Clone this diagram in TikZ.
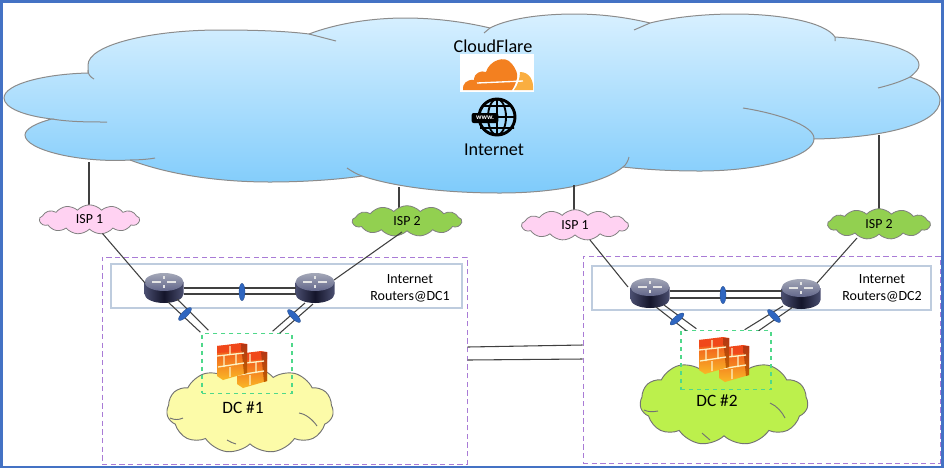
\documentclass[tikz,border=0pt]{standalone}
\usepackage{fontspec}
\setmainfont{Carlito}
\usetikzlibrary{positioning, shapes.geometric, shapes.symbols, calc}
\definecolor{framblue}{HTML}{4472C4}
\definecolor{cloudtop}{HTML}{D8F0FF}
\definecolor{cloudbot}{HTML}{7ECBFB}
\definecolor{ispPink}{HTML}{FFD2F2}
\definecolor{ispGreen}{HTML}{92D050}
\definecolor{dcYellow}{HTML}{FCFBA8}
\definecolor{dcGreen}{HTML}{BCF04C}
\definecolor{boxpurple}{HTML}{A97BD6}
\definecolor{boxgreen}{HTML}{4FD88A}
\definecolor{boxgray}{HTML}{BECCDE}
\definecolor{ringblue}{HTML}{2F66C0}
\definecolor{cforange}{HTML}{F38020}
\definecolor{cfyellow}{HTML}{FAAE40}
\definecolor{fwred}{HTML}{F0481A}
\definecolor{fwyellow}{HTML}{F9B826}
\definecolor{fwcream}{HTML}{FDF2C4}
\definecolor{lidtop}{HTML}{A4A8B8}
\definecolor{lidbot}{HTML}{62668A}
\definecolor{drumside}{HTML}{4A4E70}
\definecolor{drummid}{HTML}{14152A}
\tikzset{
    isp/.style={cloud, cloud ignores aspect, cloud puffs=13, cloud puff arc=95, draw=black!50, line width=0.6pt,
                inner sep=0pt, font=\fontsize{10.4}{12}\selectfont},
    dccloud/.style={cloud, cloud ignores aspect, cloud puffs=11, cloud puff arc=100, draw=black!55, line width=0.7pt,
                inner sep=0pt, minimum width=125pt, minimum height=65pt},
    sitebox/.style={draw=boxpurple, dash pattern=on 4pt off 2.5pt, line width=0.75pt, inner sep=0pt},
    routerbox/.style={draw=boxgray, line width=1pt, inner sep=0pt, minimum width=#1, minimum height=33pt},
    fwbox/.style={draw=boxgreen, dashed, line width=0.9pt, inner sep=0pt, minimum width=67.5pt, minimum height=44.5pt},
    ring/.style={ellipse, fill=ringblue, draw=ringblue!70!black, line width=0.2pt, inner sep=0pt, minimum width=13pt, minimum height=4.5pt},
    link/.style={draw=black!75, line width=0.8pt},
    biglabel/.style={font=\fontsize{13.6}{16}\selectfont},
    dclabel/.style={font=\fontsize{13}{15}\selectfont},
}
% router: dark drum with arrows on the lid
\newcommand{\router}[2]{
    \begin{scope}[shift={(#2)}]
        \shade[left color=drumside, right color=drumside, middle color=drummid]
            (-19.5,-6) -- (-19.5,6) arc[start angle=180, end angle=360, x radius=19.5, y radius=-9] -- (19.5,-6) -- cycle;
        \shade[top color=lidtop, bottom color=lidbot] (0,-6) ellipse[x radius=19.5, y radius=9];
        \draw[white!90!black, line width=0.9pt] (-12,-6) -- (-3,-6) (3,-6) -- (12,-6) (0,-12) -- (0,-9) (0,-3) -- (0,0);
        \node[inner sep=0pt, minimum width=29pt, minimum height=22pt] (#1) at (0,0) {};
    \end{scope}
}
% one brick wall, origin at its top left
\newcommand{\wall}[1]{
    \begin{scope}[shift={(#1)}]
        \shade[top color=fwred, bottom color=fwyellow] (0,3) -- (30,1) -- (30,30) -- (6,37) -- (0,33) -- cycle;
        \fill[fwred] (0,3) -- (24,0) -- (30,1) -- (30,8) -- (0,10) -- cycle;
        \shade[top color=fwred!75!black, bottom color=orange!75!black] (24,1) -- (30,1) -- (30,30) -- (27,31) -- cycle;
        \draw[fwcream, line width=1pt] (0,13) -- (27,10) (1,24) -- (27,20) (13,3) -- (13,12) (7,13) -- (7,24) (19,11) -- (19,22) (13,24) -- (13,34);
    \end{scope}
}
\begin{document}
\begin{tikzpicture}[x=0.75pt, y=-0.75pt]
    \useasboundingbox (0,0) rectangle (944,469);
    \draw[framblue, line width=2pt] (1.5,1.5) rectangle (942.5,467);

    % big cloud
    \path[draw=black!45, line width=0.75pt, top color=cloudtop, bottom color=cloudbot]
        (88,73) .. controls (45,74) and (4,84) .. (4,98)
        .. controls (4,108) and (25,116) .. (52,119)
        .. controls (36,123) and (25,129) .. (25,135)
        .. controls (25,150) and (80,163) .. (130,160)
        .. controls (170,175) and (220,182) .. (270,182)
        .. controls (300,182) and (335,180) .. (362,176)
        .. controls (395,187) and (445,193) .. (500,193)
        .. controls (560,193) and (605,182) .. (623,167)
        .. controls (650,170) and (675,171) .. (700,171)
        .. controls (765,171) and (814,155) .. (814,139)
        .. controls (880,138) and (940,125) .. (940,100)
        .. controls (940,90) and (925,82) .. (910,77)
        .. controls (916,72) and (919,69) .. (919,65)
        .. controls (919,50) and (880,40) .. (835,37)
        .. controls (825,22) and (780,14) .. (735,14)
        .. controls (700,14) and (670,18) .. (650,23)
        .. controls (625,17) and (600,14) .. (575,14)
        .. controls (535,14) and (505,20) .. (490,28)
        .. controls (465,22) and (435,18) .. (405,18)
        .. controls (370,18) and (335,24) .. (309,34)
        .. controls (285,31) and (255,30) .. (220,30)
        .. controls (150,30) and (88,45) .. (88,65)
        -- cycle;
    \draw[black!45, line width=0.75pt]
        (88,70) .. controls (88,74) and (90,77) .. (94,79)
        (52,119) .. controls (70,122) and (90,122) .. (107,122)
        (130,160) .. controls (140,160) and (150,159) .. (155,158)
        (347,168) .. controls (350,170) and (356,174) .. (362,176)
        (629,157) .. controls (628,161) and (626,165) .. (623,167)
        (814,139) .. controls (815,125) and (775,113) .. (743,108)
        (910,77) .. controls (900,82) and (890,85) .. (878,88)
        (835,37) -- (835,41)
        (650,23) -- (634,30)
        (490,28) -- (484,33)
        (309,34) -- (336,41);

    % labels and logos inside the big cloud
    \node[biglabel] (cflabel) at (493,46) {CloudFlare};
    \fill[white] (460,54) rectangle (534,92);
    \fill[cforange] (463,90) .. controls (462,84) and (467,79) .. (474,80)
        .. controls (474,73) and (481,70) .. (486,72)
        .. controls (489,61) and (505,54) .. (512,64)
        .. controls (516,69) and (518,74) .. (517,78)
        .. controls (516,83) and (514,87) .. (512,90) -- cycle;
    \fill[cfyellow] (520,72) .. controls (529,72) and (534,80) .. (533,90) -- (514,90) .. controls (518,85) and (520,78) .. (520,72) -- cycle;
    \draw[white, line width=1pt] (477,83) -- (523,81);
    \draw[black, line width=2.2pt] (497,117) circle[radius=18];
    \draw[black, line width=1.4pt] (497,117) ellipse[x radius=9, y radius=18] (497,99) -- (497,135)
        (483,106) -- (511,106) (480,128) -- (514,128) (498,117) -- (515,117);
    \node[fill=black, rounded corners=1.5pt, text=white, inner sep=1pt, minimum width=20pt, minimum height=7.5pt,
          font=\fontsize{5.5}{6}\bfseries\selectfont] (www) at (485,118) {www.};
    \node[biglabel] (netlabel) at (494,150) {Internet};

    % site boxes
    \node[sitebox, minimum width=273.75pt, minimum height=155.25pt] (site1) at (284.5,360.5) {};
    \node[sitebox, minimum width=267.75pt, minimum height=155.25pt] (site2) at (761.5,359.5) {};
    \node[routerbox=263.25pt] (rbox1) at (286.5,286) {};
    \node[routerbox=254.25pt] (rbox2) at (761.5,288) {};

    % cloud to ISP
    \coordinate (neta) at (89,162);
    \coordinate (netb) at (399,187);
    \coordinate (netc) at (574,185);
    \coordinate (netd) at (879,135);
    \coordinate (ispa) at (89,212);
    \coordinate (ispb) at (399,212);
    \coordinate (ispc) at (574,215);
    \coordinate (ispd) at (879,215);
    \draw[link] (neta) -- (ispa);
    \draw[link] (netb) -- (ispb);
    \draw[link] (netc) -- (ispc);
    \draw[link] (netd) -- (ispd);

    % ISP clouds
    \node[isp, fill=ispPink, minimum width=75pt, minimum height=22pt] (isp1a) at (89.5,219.5) {ISP 1};
    \node[isp, fill=ispGreen, minimum width=82pt, minimum height=23pt] (isp2a) at (407,221) {ISP 2};
    \node[isp, fill=ispPink, minimum width=80pt, minimum height=23pt] (isp1b) at (575,225) {ISP 1};
    \node[isp, fill=ispGreen, minimum width=77pt, minimum height=23pt] (isp2b) at (879,224) {ISP 2};

    % routers
    \router{r1a}{164,288}
    \router{r1b}{315,288}
    \router{r2a}{650,293}
    \router{r2b}{801,294}

    % ISP to routers
    \draw[link] ([shift={(13,14)}]isp1a.center) -- ([shift={(-19,-5)}]r1a.center);
    \draw[link] ([shift={(-5,11)}]isp2a.center) -- ([shift={(19,-8)}]r1b.center);
    \draw[link] ([shift={(15,15)}]isp1b.center) -- ([shift={(-22,-6)}]r2a.center);
    \draw[link] ([shift={(-22,14)}]isp2b.center) -- ([shift={(16,-11)}]r2b.center);

    % DC clouds
    \node[dccloud, fill=dcYellow] (dc1) at (250,410) {};
    \node[dccloud, fill=dcGreen, minimum width=126pt] (dc2) at (724,402) {};
    \draw[black!55, line width=0.7pt]
        (170,418) .. controls (174,420) and (179,420) .. (183,418)
        (299,413) .. controls (306,414) and (313,420) .. (317,426)
        (227,440) .. controls (230,442) and (233,443) .. (236,444)
        (644,410) .. controls (648,412) and (653,412) .. (658,411)
        (770,403) .. controls (777,406) and (782,412) .. (785,418)
        (702,433) .. controls (705,436) and (708,438) .. (710,440);
    \node[dclabel] (dc1label) at (243,408) {DC \#1};
    \node[dclabel] (dc2label) at (717,401) {DC \#2};

    % firewalls
    \node[fwbox] (fw1) at (247,363.5) {};
    \node[fwbox] (fw2) at (726,360) {};
    \wall{237,351}
    \wall{217,343}
    \wall{719,345}
    \wall{699,337}

    % router pairs
    \draw[link] ([shift={(19.5,0)}]r1a.center) -- ([shift={(-19,0)}]r1b.center);
    \draw[link] ([shift={(19.5,6)}]r1a.center) -- ([shift={(-19,6)}]r1b.center);
    \draw[link] ([shift={(19.5,-2)}]r2a.center) -- ([shift={(-19,-3)}]r2b.center);
    \draw[link] ([shift={(19.5,5)}]r2a.center) -- ([shift={(-19,4)}]r2b.center);
    \node[ring, rotate=90] (ring1) at (242,292) {};
    \node[ring, rotate=90] (ring2) at (723,295) {};

    % routers to firewall boxes
    \draw[link] ([shift={(4,14)}]r1a.center) -- ([shift={(-1,-1)}]fw1.north west);
    \draw[link] ([shift={(13,11)}]r1a.center) -- ([shift={(7,-3)}]fw1.north west);
    \draw[link] ([shift={(-10,15)}]r1b.center) -- ([shift={(-20,-2)}]fw1.north east);
    \draw[link] ([shift={(-2,16)}]r1b.center) -- ([shift={(-13,0)}]fw1.north east);
    \draw[link] ([shift={(6,14)}]r2a.center) -- ([shift={(6,1)}]fw2.north west);
    \draw[link] ([shift={(14,12)}]r2a.center) -- ([shift={(16,-1)}]fw2.north west);
    \draw[link] ([shift={(-18,12)}]r2b.center) -- ([shift={(-27,0)}]fw2.north east);
    \draw[link] ([shift={(-8,13)}]r2b.center) -- ([shift={(-13,1)}]fw2.north east);
    \node[ring, rotate=45] (ring3) at (185,314) {};
    \node[ring, rotate=-45] (ring4) at (294,316) {};
    \node[ring, rotate=40] (ring5) at (677,319) {};
    \node[ring, rotate=-45] (ring6) at (774,316) {};

    % link between the sites
    \draw[link] (site1.east |- 0,347) -- (site2.west |- 0,345);
    \draw[link] (site1.east |- 0,360) -- (site2.west |- 0,359);

    \node[align=center, font=\fontsize{10.5}{12.5}\selectfont] (rlabel1) at (410,288) {Internet\\Routers@DC1};
    \node[align=center, font=\fontsize{10.5}{12.5}\selectfont] (rlabel2) at (882,288) {Internet\\Routers@DC2};
\end{tikzpicture}
\end{document}
